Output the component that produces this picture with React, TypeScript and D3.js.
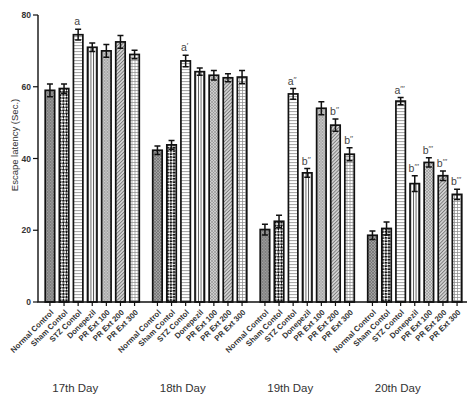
import { useEffect, useRef } from "react";
import * as d3 from "d3";

const days = ["17th Day", "18th Day", "19th Day", "20th Day"];
const treatments = ["Normal Control", "Sham Contol", "STZ Contol", "Donepezil", "PR Ext 100", "PR Ext 200", "PR Ext 300"];

// mean escape latency per day, one value per treatment
const day17 = [59, 59.5, 74.5, 71, 70, 72.5, 69];
const day18 = [42.3, 43.8, 67.2, 64.2, 63.2, 62.5, 62.7];
const day19 = [20.2, 22.5, 58, 36, 54, 49.3, 41.2];
const day20 = [18.6, 20.5, 56, 33, 38.9, 35.2, 30];

// SEM
const err17 = [1.8, 1.3, 1.5, 1.2, 1.8, 1.8, 1.2];
const err18 = [1.2, 1.2, 1.6, 1.0, 1.3, 1.1, 1.8];
const err19 = [1.5, 1.7, 1.5, 1.2, 1.8, 1.7, 1.8];
const err20 = [1.2, 1.8, 1.0, 2.2, 1.3, 1.3, 1.4];

const sig17 = ["", "", "a", "", "", "", ""];
const sig18 = ["", "", "a'", "", "", "", ""];
const sig19 = ["", "", "a''", "b''", "", "b''", "b''"];
const sig20 = ["", "", "a'''", "b'''", "b'''", "b'''", "b'''"];

const yTicks = [0, 20, 40, 60, 80];

const values = [day17, day18, day19, day20];
const errors = [err17, err18, err19, err20];
const sigs = [sig17, sig18, sig19, sig20];

const patternIds = ["pNormal", "pSham", "pStz", "pDon", "p100", "p200", "p300"];

export default function App() {
  const svgRef = useRef<SVGSVGElement>(null);

  useEffect(() => {
    const w = 474;
    const h = 395;
    const svg = d3.select(svgRef.current).attr("width", w).attr("height", h);
    svg.selectAll("*").remove();

    const defs = svg.append("defs");
    // Normal control: dark fine crosshatch
    const pn = defs.append("pattern").attr("id", "pNormal").attr("patternUnits", "userSpaceOnUse").attr("width", 3).attr("height", 3);
    pn.append("rect").attr("width", 3).attr("height", 3).attr("fill", "#a0a0a0");
    pn.append("path").attr("d", "M0,0L3,3M3,0L0,3").attr("stroke", "#666").attr("stroke-width", 0.6);
    // Sham: checkerboard
    const ps = defs.append("pattern").attr("id", "pSham").attr("patternUnits", "userSpaceOnUse").attr("width", 4.4).attr("height", 4.4)
      .attr("patternTransform", "rotate(45)");
    ps.append("rect").attr("width", 4.4).attr("height", 4.4).attr("fill", "#fff");
    ps.append("rect").attr("width", 2.2).attr("height", 2.2).attr("fill", "#111");
    ps.append("rect").attr("x", 2.2).attr("y", 2.2).attr("width", 2.2).attr("height", 2.2).attr("fill", "#111");
    // STZ: horizontal lines
    const pz = defs.append("pattern").attr("id", "pStz").attr("patternUnits", "userSpaceOnUse").attr("width", 4).attr("height", 3);
    pz.append("rect").attr("width", 4).attr("height", 3).attr("fill", "#fff");
    pz.append("rect").attr("y", 0).attr("width", 4).attr("height", 1.1).attr("fill", "#aaa");
    // Donepezil: vertical lines
    const pd = defs.append("pattern").attr("id", "pDon").attr("patternUnits", "userSpaceOnUse").attr("width", 2.6).attr("height", 4);
    pd.append("rect").attr("width", 2.6).attr("height", 4).attr("fill", "#fff");
    pd.append("rect").attr("width", 0.9).attr("height", 4).attr("fill", "#555");
    // PR 100: light crosshatch
    const p1 = defs.append("pattern").attr("id", "p100").attr("patternUnits", "userSpaceOnUse").attr("width", 3).attr("height", 3);
    p1.append("rect").attr("width", 3).attr("height", 3).attr("fill", "#cdcdcd");
    p1.append("path").attr("d", "M0,0L3,3M3,0L0,3").attr("stroke", "#888").attr("stroke-width", 0.55);
    // PR 200: diagonal lines
    const p2 = defs.append("pattern").attr("id", "p200").attr("patternUnits", "userSpaceOnUse").attr("width", 2.5).attr("height", 2.5)
      .attr("patternTransform", "rotate(45)");
    p2.append("rect").attr("width", 2.5).attr("height", 2.5).attr("fill", "#d4d4d4");
    p2.append("rect").attr("width", 0.9).attr("height", 2.5).attr("fill", "#777");
    // PR 300: grid
    const p3 = defs.append("pattern").attr("id", "p300").attr("patternUnits", "userSpaceOnUse").attr("width", 3).attr("height", 3);
    p3.append("rect").attr("width", 3).attr("height", 3).attr("fill", "#fff");
    p3.append("path").attr("d", "M0,0.5H3M0.5,0V3").attr("stroke", "#888").attr("stroke-width", 0.7);

    const x0 = d3.scaleBand().domain(days).range([38.5, 468.5]);
    const x1 = d3.scaleBand().domain(treatments).range([0, x0.bandwidth()]).paddingInner(0.33).paddingOuter(0.476);
    const y = d3.scaleLinear().domain([0, 80]).range([302, 15]);

    const font = "'Liberation Sans', Arial, sans-serif";

    const groups = svg.selectAll(".grp").data(days).join("g")
      .attr("transform", (d) => `translate(${x0(d)},0)`);

    groups.each(function (day, gi) {
      const g = d3.select(this);
      const rows = treatments.map((t, i) => ({ t, i, v: values[gi][i], e: errors[gi][i], s: sigs[gi][i] }));
      g.selectAll("rect.bar").data(rows).join("rect")
        .attr("x", (d) => x1(d.t)!)
        .attr("y", (d) => y(d.v))
        .attr("width", x1.bandwidth())
        .attr("height", (d) => y(0) - y(d.v))
        .attr("fill", (d) => `url(#${patternIds[d.i]})`)
        .attr("stroke", "#111")
        .attr("stroke-width", 1.7);

      const cx = (d) => x1(d.t)! + x1.bandwidth() / 2;
      g.selectAll("path.err").data(rows).join("path")
        .attr("d", (d) => {
          const c = cx(d);
          const t = y(d.v + d.e);
          const b = y(d.v - d.e);
          return `M${c - 3},${t}H${c + 3}M${c},${t}V${b}M${c - 3},${b}H${c + 3}`;
        })
        .attr("fill", "none")
        .attr("stroke", "#111")
        .attr("stroke-width", 1.5);

      const lab = g.selectAll("text.sig").data(rows.filter((d) => d.s)).join("text")
        .attr("x", (d) => cx(d) - 1)
        .attr("y", (d) => y(d.v + d.e) - 4)
        .attr("text-anchor", "middle")
        .attr("font-family", font)
        .attr("font-size", 10.5)
        .attr("fill", "#444");
      lab.append("tspan").text((d) => d.s[0]);
      lab.append("tspan").attr("dy", -3).attr("font-size", 8).text((d) => d.s.slice(1).replace(/'/g, "\u2032"));

      // ticks and tick labels
      g.selectAll("line.tk").data(rows).join("line")
        .attr("x1", cx).attr("x2", cx).attr("y1", 302).attr("y2", 306)
        .attr("stroke", "#111").attr("stroke-width", 1.2);
      g.selectAll("text.tl").data(rows).join("text")
        .attr("transform", (d) => `translate(${cx(d) + 4},${313}) rotate(-45)`)
        .attr("text-anchor", "end")
        .attr("font-family", font)
        .attr("font-size", 7.8)
        .attr("font-weight", "bold")
        .attr("fill", "#333")
        .text((d) => d.t);
    });

    // day labels
    svg.selectAll("text.day").data(days).join("text")
      .attr("x", (d) => x0(d)! + x0.bandwidth() / 2 - 17)
      .attr("y", 392)
      .attr("text-anchor", "middle")
      .attr("font-family", font)
      .attr("font-size", 11.5)
      .attr("fill", "#333")
      .text((d) => d);

    // axes
    svg.append("path").attr("d", `M38,${y(80)}V${y(0)}H467`).attr("fill", "none").attr("stroke", "#111").attr("stroke-width", 1.4);
    const ya = svg.append("g");
    ya.selectAll("line").data(yTicks).join("line")
      .attr("x1", 33).attr("x2", 38).attr("y1", (d) => y(d)).attr("y2", (d) => y(d))
      .attr("stroke", "#111").attr("stroke-width", 1.2);
    ya.selectAll("text").data(yTicks).join("text")
      .attr("x", 31).attr("y", (d) => y(d) + 3)
      .attr("text-anchor", "end")
      .attr("font-family", font)
      .attr("font-size", 8.5)
      .attr("font-weight", "bold")
      .attr("fill", "#333")
      .text((d) => d);

    svg.append("text")
      .attr("transform", "translate(18,145) rotate(-90)")
      .attr("text-anchor", "middle")
      .attr("font-family", font)
      .attr("font-size", 9.5)
      .attr("fill", "#333")
      .text("Escape latency (Sec.)");
  }, []);

  return <svg ref={svgRef} style={{ display: "block", position: "absolute", left: 0, top: 0 }}></svg>;
}
